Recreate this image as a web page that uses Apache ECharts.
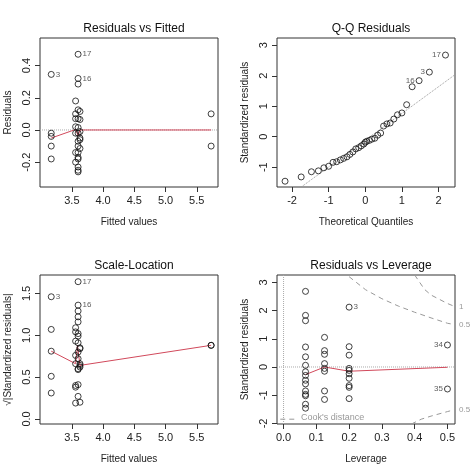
<!DOCTYPE html><html><head><meta charset="utf-8">
<script src="https://cdn.jsdelivr.net/npm/echarts@6/dist/echarts.min.js"></script>
<style>html,body{margin:0;background:#fff}#c{width:474px;height:474px}</style></head><body><div id="c"></div>
<script>
// Panel 1: Residuals vs Fitted
const rfFitted = [3.17,3.17,3.17,3.17,3.17, 3.56,3.56,3.56,3.56,3.56,3.56,3.56, 3.6,3.6,3.6,3.6,3.6,3.6,3.6,3.6,3.6,3.6,3.6,3.6,3.6,3.6,3.6, 3.63,3.63,3.63,3.63,3.63,3.63, 5.73,5.73];
const rfResid  = [0.345,-0.02,-0.04,-0.1,-0.18, 0.18,0.1,0.07,0.02,-0.02,-0.14,-0.2, 0.47,0.32,0.285,0.125,0.07,0.015,-0.02,-0.07,-0.1,-0.14,-0.17,-0.18,-0.23,-0.25,-0.26, 0.115,0.065,-0.01,-0.06,-0.115,-0.05, 0.1,-0.1];
const rfNames  = {0:'3',12:'17',13:'16'};
const rfSmoothX = [3.17,3.56,3.6,3.63,5.73];
const rfSmoothY = [-0.05,0.003,-0.035,0.0,0.0];
// Panel 2: Q-Q
const qqTheo = [-2.19,-1.75,-1.47,-1.28,-1.13,-1.0,-0.88,-0.78,-0.68,-0.59,-0.5,-0.42,-0.34,-0.26,-0.18,-0.11,-0.04,0,0.04,0.11,0.18,0.26,0.34,0.42,0.5,0.59,0.68,0.78,0.88,1.0,1.13,1.28,1.47,1.75,2.19];
const qqStd  = [-1.46,-1.32,-1.15,-1.12,-1.02,-0.97,-0.84,-0.82,-0.76,-0.71,-0.66,-0.58,-0.5,-0.4,-0.36,-0.3,-0.24,-0.18,-0.15,-0.12,-0.08,-0.05,0.05,0.12,0.35,0.42,0.45,0.58,0.72,0.78,1.05,1.64,1.84,2.12,2.68];
const qqNames = {32:'16',33:'3',34:'17'};
const qqLineX = [-2.5,2.5];
const qqLineY = [-2.31,2.08];
// Panel 3: Scale-Location
const slFitted = [3.17,3.17,3.17,3.17,3.17, 3.56,3.56,3.56,3.56,3.56,3.56,3.56,3.56, 3.6,3.6,3.6,3.6,3.6,3.6,3.6,3.6,3.6,3.6,3.6,3.6,3.6,3.6, 3.63,3.63,3.63,3.63,3.63,3.63, 5.73,5.73];
const slSqrt   = [1.46,1.07,0.81,0.51,0.31, 1.09,1.04,0.93,0.76,0.66,0.4,0.38,0.19, 1.64,1.36,1.29,1.22,1.16,1.02,0.99,0.91,0.8,0.72,0.6,0.59,0.41,0.27, 0.85,0.84,0.66,0.64,0.2,0.62, 0.88,0.88];
const slNames  = {0:'3',13:'17',14:'16'};
const slSmoothX = [3.17,3.56,3.59,3.63,5.73];
const slSmoothY = [0.81,0.66,0.88,0.64,0.88];
// Panel 4: Residuals vs Leverage
const lvLev = [0.067,0.067,0.067,0.067,0.067,0.067,0.067,0.067,0.067,0.067,0.067,0.067,0.067,0.067,0.067, 0.125,0.125,0.125,0.125,0.125,0.125,0.125,0.125, 0.2,0.2,0.2,0.2,0.2,0.2,0.2,0.2,0.2,0.2, 0.5,0.5];
const lvStd = [2.68,1.83,1.64,0.71,0.36,0.06,-0.17,-0.3,-0.47,-0.6,-0.85,-0.97,-1.02,-1.32,-1.46, 1.05,0.58,0.45,0.12,-0.05,-0.15,-0.85,-1.15, 2.12,0.72,0.42,-0.05,-0.12,-0.24,-0.4,-0.66,-0.72,-1.12, 0.78,-0.78];
const lvNames = {23:'3',33:'34',34:'35'};
const lvSmoothX = [0.067,0.125,0.2,0.5];
const lvSmoothY = [-0.27,0.0,-0.15,-0.01];
const cookHalfX = [0.2,0.25,0.3,0.35,0.4,0.45,0.5,0.523];
const cookHalfY = [3.2,2.74,2.42,2.16,1.94,1.74,1.55,1.5];
const cookOneX = [0.4,0.43,0.45,0.5,0.523];
const cookOneY = [3.26,2.75,2.55,2.25,2.14];
const cookNegX = [0.39,0.42,0.45,0.5,0.523];
const cookNegY = [-2.02,-1.85,-1.74,-1.58,-1.51];
// tick labels
const fitTicks = [3.5,4.0,4.5,5.0,5.5];
const rfYTicks = [-0.2,0.0,0.2,0.4];
const qqXTicks = [-2,-1,0,1,2];
const qqYTicks = [-1,0,1,2,3];
const slYTicks = [0.0,0.5,1.0,1.5];
const lvXTicks = [0.0,0.1,0.2,0.3,0.4,0.5];
const lvYTicks = [-2,-1,0,1,2,3];

const F = 'Liberation Sans, Arial, sans-serif';
const grids = [
 {left:40,top:38,width:178,height:149},
 {left:277,top:38,width:178,height:149},
 {left:40,top:275,width:178,height:149},
 {left:277,top:275,width:178,height:149}
].map(g=>Object.assign(g,{show:true,borderColor:'#333',borderWidth:1,backgroundColor:'transparent'}));

function xa(i,min,max,ticks,name,dec){return {type:'value',gridIndex:i,min,max,name,nameLocation:'middle',nameGap:30,position:'bottom',
 nameTextStyle:{fontFamily:F,fontSize:10,color:'#222'},splitLine:{show:false},axisLine:{show:false,onZero:false},
 axisTick:{show:true,length:5,customValues:ticks,lineStyle:{color:'#333'}},
 axisLabel:{customValues:ticks,fontFamily:F,fontSize:11,color:'#222',margin:8,formatter:v=>v.toFixed(dec)}};}
function ya(i,min,max,ticks,name,dec){return {type:'value',gridIndex:i,min,max,name,nameLocation:'middle',nameGap:27,position:'left',
 nameTextStyle:{fontFamily:F,fontSize:10,color:'#222'},splitLine:{show:false},axisLine:{show:false,onZero:false},
 axisTick:{show:true,length:5,customValues:ticks,lineStyle:{color:'#333'}},
 axisLabel:{customValues:ticks,rotate:90,fontFamily:F,fontSize:11,color:'#222',margin:8,formatter:v=>v.toFixed(dec)}};}

function pts(i,xs,ys,names,pos){return {type:'scatter',xAxisIndex:i,yAxisIndex:i,symbol:'circle',symbolSize:6,z:5,
 itemStyle:{color:'rgba(255,255,255,0)',borderColor:'#111',borderWidth:1},
 data:xs.map((x,k)=>[x,ys[k],names[k]||'']),
 label:{show:true,position:pos,distance:1,fontFamily:F,fontSize:8,color:'#333',formatter:p=>p.value[2]}};}
function ln(i,xs,ys,color,type,extra){return Object.assign({type:'line',xAxisIndex:i,yAxisIndex:i,symbol:'none',silent:true,
 data:xs.map((x,k)=>[x,ys[k]]),lineStyle:{color,width:1,type}},extra||{});}
function cook(i,xs,ys,lab){return ln(i,xs,ys,'#999',[5,4],{endLabel:{show:true,formatter:lab,fontFamily:F,fontSize:8,color:'#999',distance:4}});}

const option = {
 animation:false,
 title:[
  {text:'Residuals vs Fitted',left:129,top:18,textAlign:'center'},
  {text:'Q-Q Residuals',left:366,top:18,textAlign:'center'},
  {text:'Scale-Location',left:129,top:255,textAlign:'center'},
  {text:'Residuals vs Leverage',left:366,top:255,textAlign:'center'}
 ].map(t=>Object.assign(t,{textStyle:{fontFamily:F,fontSize:12,fontWeight:'normal',color:'#111'}})),
 grid:grids,
 xAxis:[xa(0,2.99,5.84,fitTicks,'Fitted values',1),xa(1,-2.41,2.45,qqXTicks,'Theoretical Quantiles',0),
        xa(2,2.99,5.84,fitTicks,'Fitted values',1),xa(3,-0.02,0.523,lvXTicks,'Leverage',1)],
 yAxis:[ya(0,-0.354,0.571,rfYTicks,'Residuals',1),ya(1,-1.65,3.24,qqYTicks,'Standardized residuals',0),
        ya(2,-0.06,1.72,slYTicks,'√|Standardized residuals|',1),ya(3,-2.02,3.26,lvYTicks,'Standardized residuals',0)],
 graphic:[{type:'text',left:301,top:413,style:{text:"Cook's distance",fontFamily:F,fontSize:9,fill:'#999'}}],
 series:[
  ln(0,[2.99,5.84],[0,0],'#aaa','dotted'),
  pts(0,rfFitted,rfResid,rfNames,'right'),
  ln(0,rfSmoothX,rfSmoothY,'#d1495b','solid'),
  ln(1,qqLineX,qqLineY,'#999','dotted'),
  pts(1,qqTheo,qqStd,qqNames,'left'),
  pts(2,slFitted,slSqrt,slNames,'right'),
  ln(2,slSmoothX,slSmoothY,'#d1495b','solid'),
  ln(3,[-0.02,0.523],[0,0],'#aaa','dotted'),
  ln(3,[0,0],[-2.02,3.26],'#aaa','dotted'),
  pts(3,lvLev,lvStd,lvNames,'right'),
  ln(3,lvSmoothX,lvSmoothY,'#d1495b','solid'),
  cook(3,cookHalfX,cookHalfY,'0.5'),
  cook(3,cookOneX,cookOneY,'1'),
  cook(3,cookNegX,cookNegY,'0.5'),
  ln(3,[-0.01,0.04],[-1.85,-1.85],'#999',[5,4])
 ]
};
// label side tweaks for leverage panel (34, 35 on left)
option.series[9].data[33] = {value:[0.5,0.78,'34'],label:{position:'left'}};
option.series[9].data[34] = {value:[0.5,-0.78,'35'],label:{position:'left'}};
const ch = echarts.init(document.getElementById('c'),null,{renderer:'canvas'});
ch.setOption(option);
</script></body></html>
